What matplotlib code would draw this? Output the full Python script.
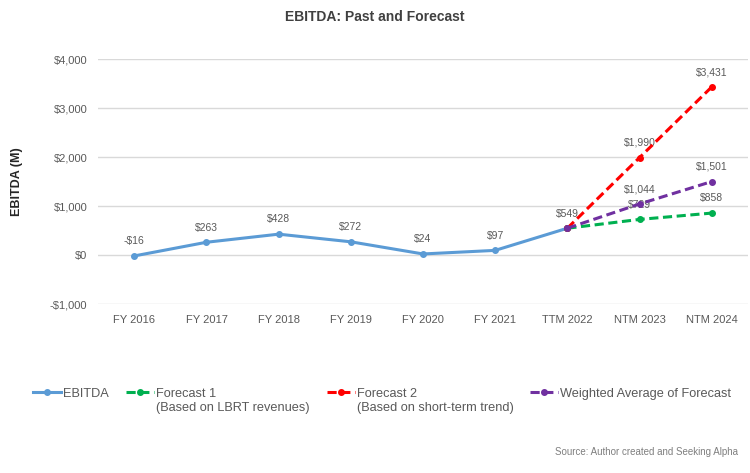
import numpy as np
import matplotlib.pyplot as plt

plt.rcParams['font.family'] = ['Liberation Sans', 'DejaVu Sans']

categories = ['FY 2016', 'FY 2017', 'FY 2018', 'FY 2019', 'FY 2020', 'FY 2021',
              'TTM 2022', 'NTM 2023', 'NTM 2024']
ebitda = [-16, 263, 428, 272, 24, 97, 549]
forecast1 = [549, 729, 858]
forecast2 = [549, 1990, 3431]
weighted = [549, 1044, 1501]
yticks = [-1000, 0, 1000, 2000, 3000, 4000]
legend_first = ['EBITDA', 'Forecast 1', 'Forecast 2', 'Weighted Average of Forecast']
legend_second = ['', '(Based on LBRT revenues)', '(Based on short-term trend)', '']
legend_x = [0.044, 0.168, 0.436, 0.706]

gray = '#595959'
x = np.arange(len(categories))
xf = x[6:]

fig = plt.figure(figsize=(7.5, 4.73), dpi=100)
ax = fig.add_axes([0.131, 0.357, 0.866, 0.518])

dash = (0, (3, 1.5))
lines = []
lines += ax.plot(x[:7], ebitda, color='#5B9BD5', lw=2.2, marker='o', ms=4, zorder=3)
lines += ax.plot(xf, forecast1, color='#00B050', lw=2.2, ls=dash, marker='o', ms=4, zorder=4)
lines += ax.plot(xf, forecast2, color='#FF0000', lw=2.2, ls=dash, marker='o', ms=4, zorder=4)
lines += ax.plot(xf, weighted, color='#7030A0', lw=2.2, ls=dash, marker='o', ms=4, zorder=5)

def money(v):
    return ('-$' if v < 0 else '$') + format(abs(v), ',')

for xi, v in zip(x[:7], ebitda):
    ax.annotate(money(v), (xi, v), xytext=(0, 7), textcoords='offset points',
                ha='center', va='bottom', fontsize=7.5, color=gray)
for series in (forecast1, forecast2, weighted):
    for xi, v in zip(xf[1:], series[1:]):
        ax.annotate(money(v), (xi, v), xytext=(0, 7), textcoords='offset points',
                    ha='center', va='bottom', fontsize=7.5, color=gray)

ax.set_xlim(-0.5, len(categories) - 0.5)
ax.set_ylim(-1000, 4000)
ax.set_yticks(yticks)
ax.set_yticklabels([money(t) for t in yticks])
ax.set_xticks(x)
ax.set_xticklabels(categories)
ax.tick_params(axis='both', length=0, labelsize=8, labelcolor=gray, pad=8)
ax.grid(axis='y', color='#D9D9D9', lw=1)
ax.set_axisbelow(True)
for s in ax.spines.values():
    s.set_visible(False)

ax.set_ylabel('EBITDA (M)', fontsize=9, fontweight='bold', color='#262626', labelpad=19)
fig.text(0.5, 0.965, 'EBITDA: Past and Forecast', ha='center', va='center',
         fontsize=10, fontweight='bold', color='#404040')

# one legend per entry so the spacing follows the reference
legs = []
for ln, lab, lx in zip(lines, legend_first, legend_x):
    lg = fig.legend([ln], [lab], loc='upper left', bbox_to_anchor=(lx, 0.18),
                    frameon=False, fontsize=9.2, handlelength=2.2, handletextpad=0.15,
                    borderpad=0, borderaxespad=0, labelcolor=gray)
    legs.append(lg)

# second line of the legend labels
fig.canvas.draw()
inv = fig.transFigure.inverted()
for lg, extra in zip(legs, legend_second):
    if extra:
        bb = lg.get_texts()[0].get_window_extent()
        x0, y0 = inv.transform((bb.x0, bb.y0))
        fig.text(x0, y0 - 0.004, extra, ha='left', va='top', fontsize=9.2, color=gray)

fig.text(0.984, 0.045, 'Source: Author created and Seeking Alpha', ha='right', va='center',
         fontsize=7, color='#7F7F7F')

fig.savefig('out.png', dpi=100)
